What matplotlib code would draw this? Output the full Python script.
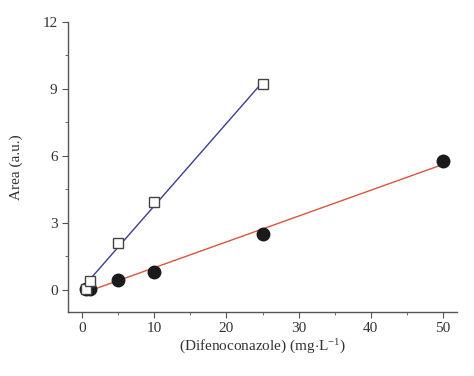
import numpy as np
import matplotlib.pyplot as plt
from matplotlib.ticker import MultipleLocator

# Calibration data
conc_sq = [0.5, 1, 5, 10, 25]
area_sq = [0.05, 0.4, 2.1, 3.95, 9.2]
conc_ci = [0.5, 1, 5, 10, 25, 50]
area_ci = [0.02, 0.05, 0.45, 0.8, 2.5, 5.75]
xticks = [0, 10, 20, 30, 40, 50]
yticks = [0, 3, 6, 9, 12]

plt.rcParams['font.family'] = ['Liberation Serif', 'DejaVu Serif']
plt.rcParams['mathtext.fontset'] = 'custom'
plt.rcParams['mathtext.rm'] = 'Liberation Serif'
plt.rcParams['mathtext.it'] = 'Liberation Serif:italic'
fig = plt.figure(figsize=(4.74, 3.76), dpi=100)
ax = fig.add_axes([68/474, 1-312/376, (457-68)/474, (312-22)/376])

# linear fits
p_sq = np.polyfit(conc_sq, area_sq, 1)
p_ci = np.polyfit(conc_ci, area_ci, 1)
xs = np.array([1, 25])
xc = np.array([1, 50])
ax.plot(xs, np.polyval(p_sq, xs), '-', color='#3b3f8f', lw=1.0, zorder=2)
ax.plot(xc, np.polyval(p_ci, xc), '-', color='#d9553f', lw=1.0, zorder=2)

ax.plot(conc_ci, area_ci, 'o', color='#1a1a1a', ms=9, mec='#1a1a1a', zorder=3)
ax.plot(conc_sq, area_sq, 's', mfc='white', mec='#444444', mew=1.0, ms=7.8,
        zorder=4)

ax.set_xlim(-2, 52)
ax.set_ylim(-1, 12)
ax.set_xticks(xticks)
ax.set_yticks(yticks)
ax.xaxis.set_minor_locator(MultipleLocator(5))
ax.yaxis.set_minor_locator(MultipleLocator(1.5))
for s in ['top', 'right']:
    ax.spines[s].set_visible(False)
for s in ['left', 'bottom']:
    ax.spines[s].set_color('#555555')
    ax.spines[s].set_linewidth(1.0)
ax.tick_params(which='both', direction='out', colors='#555555',
               labelcolor='#333333', labelsize=11)
ax.tick_params(which='major', length=4)
ax.tick_params(which='minor', length=2.5)

ax.set_xlabel(r'(Difenoconazole) (mg$\cdot$L$^{-1}$)', fontsize=11,
              color='#333333', labelpad=2)
ax.set_ylabel('Area (a.u.)', fontsize=11, color='#333333', labelpad=14)

fig.savefig('out.png', dpi=100)
